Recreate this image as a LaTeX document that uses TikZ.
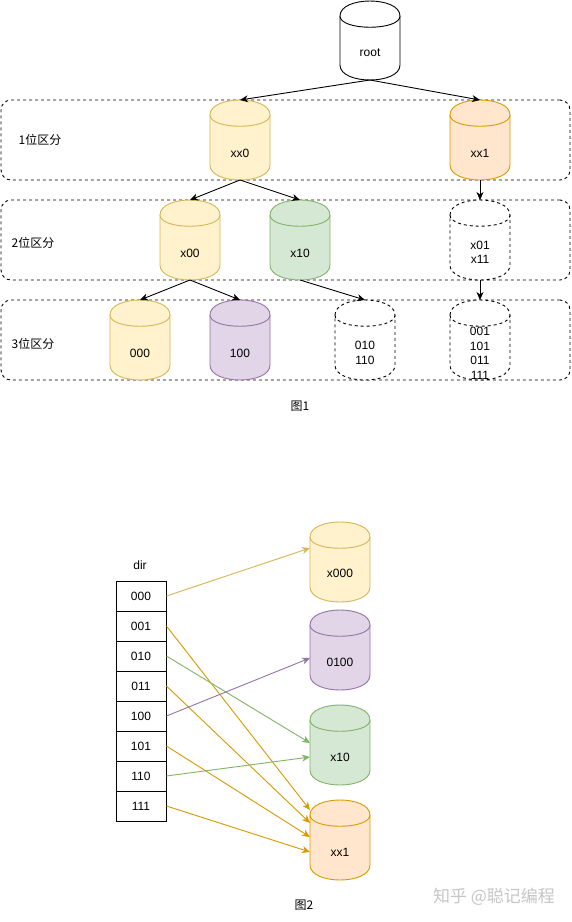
\documentclass[tikz,border=0pt]{standalone}
\usepackage{fontspec}
\setmainfont{Liberation Sans}
\newfontfamily\cjk{Noto Sans CJK SC}
\usetikzlibrary{arrows.meta,calc}
\definecolor{yf}{HTML}{FFF2CC}\definecolor{ys}{HTML}{D6B656}
\definecolor{of}{HTML}{FFE6CC}\definecolor{os}{HTML}{D79B00}
\definecolor{gf}{HTML}{D5E8D4}\definecolor{gs}{HTML}{82B366}
\definecolor{pf}{HTML}{E1D5E7}\definecolor{ps}{HTML}{9673A6}
\newcommand{\cylshape}[2]{%
  \path[#2] ($(#1.north west)+(0,15)$) .. controls ($(#1.north west)+(0,-5)$) and ($(#1.north east)+(0,-5)$) .. ($(#1.north east)+(0,15)$)
    -- ($(#1.south east)+(0,-15)$) .. controls ($(#1.south east)+(0,5)$) and ($(#1.south west)+(0,5)$) .. ($(#1.south west)+(0,-15)$) -- cycle;
  \path[#2] ($(#1.north west)+(0,15)$) .. controls ($(#1.north west)+(0,30)$) and ($(#1.north east)+(0,30)$) .. ($(#1.north east)+(0,15)$);
}
\tikzset{
  cylbox/.style={rectangle,minimum width=60pt,minimum height=80pt,inner sep=0pt,outer sep=0pt},
  lbl/.style={inner sep=0pt,align=center,font=\fontsize{12}{14.5}\selectfont},
  plain/.style={draw=black,fill=white,line width=0.9pt},
  ghost/.style={draw=black,fill=white,line width=0.9pt,dash pattern=on 3pt off 3pt},
  yel/.style={draw=ys,fill=yf,line width=0.9pt},
  ora/.style={draw=os,fill=of,line width=0.9pt},
  gre/.style={draw=gs,fill=gf,line width=0.9pt},
  pur/.style={draw=ps,fill=pf,line width=0.9pt},
  region/.style={draw=black,line width=0.9pt,dash pattern=on 3pt off 3pt,rounded corners=10pt,minimum width=569pt,minimum height=80pt,inner sep=0pt},
  arr/.style={line width=0.9pt,-{Stealth[length=8pt,width=7pt,inset=2.5pt]}},
  cell/.style={draw=black,line width=0.9pt,minimum width=50pt,minimum height=30pt,inner sep=0pt,font=\fontsize{12}{14}\selectfont},
  regl/.style={inner sep=0pt,font=\cjk\fontsize{12}{14}\selectfont},
}
\begin{document}
\begin{tikzpicture}[x=1pt,y=-1pt]
\useasboundingbox[fill=white] (0,0) rectangle (572,922);
% regions
\node[region] (r1) at (285.5,140) {};
\node[region] (r2) at (285.5,240) {};
\node[region] (r3) at (285.5,340) {};
\node[regl] (r1l) at (40,140) {1位区分};
\node[regl] (r2l) at (33,243) {2位区分};
\node[regl] (r3l) at (33,344) {3位区分};
% figure 1 cylinders
\node[cylbox,minimum height=79pt] (root) at (370,40.5) {};
\node[cylbox] (xx0) at (240,140) {};
\node[cylbox] (xx1) at (480,140) {};
\node[cylbox] (x00) at (190,240) {};
\node[cylbox] (x10) at (300,240) {};
\node[cylbox] (x01) at (480,240) {};
\node[cylbox] (c000) at (140,340) {};
\node[cylbox] (c100) at (240,340) {};
\node[cylbox] (c010) at (365,340) {};
\node[cylbox] (c001) at (480,340) {};
\cylshape{root}{plain}
\cylshape{xx0}{yel}
\cylshape{xx1}{ora}
\cylshape{x00}{yel}
\cylshape{x10}{gre}
\cylshape{x01}{ghost}
\cylshape{c000}{yel}
\cylshape{c100}{pur}
\cylshape{c010}{ghost}
\cylshape{c001}{ghost}
\node[lbl] (rootl) at (370,53) {root};
\node[lbl] (xx0l) at (240,153) {xx0};
\node[lbl] (xx1l) at (480,153) {xx1};
\node[lbl] (x00l) at (190,253) {x00};
\node[lbl] (x10l) at (300,253) {x10};
\node[lbl] (x01l) at (480,252.5) {x01\\x11};
\node[lbl] (c000l) at (140,353) {000};
\node[lbl] (c100l) at (240,353) {100};
\node[lbl] (c010l) at (365,353) {010\\110};
\node[lbl] (c001l) at (480,353.5) {001\\101\\011\\111};
% figure 1 arrows
\draw[arr] (root.south) -- (xx0.north);
\draw[arr] (root.south) -- (xx1.north);
\draw[arr] (xx0.south) -- (x00.north);
\draw[arr] (xx0.south) -- (x10.north);
\draw[arr] (xx1.south) -- (x01.north);
\draw[arr] (x00.south) -- (c000.north);
\draw[arr] (x00.south) -- (c100.north);
\draw[arr] (x10.south) -- (c010.north);
\draw[arr] (x01.south) -- (c001.north);
\node[inner sep=0pt,font=\cjk\fontsize{12}{14}\selectfont] (fig1) at (300,406) {图1};
% figure 2
\node[lbl] (dir) at (140,565) {dir};
\node[cell] (d000) at (141,596) {000};
\node[cell] (d001) at (141,626) {001};
\node[cell] (d010) at (141,656) {010};
\node[cell] (d011) at (141,686) {011};
\node[cell] (d100) at (141,716) {100};
\node[cell] (d101) at (141,746) {101};
\node[cell] (d110) at (141,776) {110};
\node[cell] (d111) at (141,806) {111};
\node[cylbox] (x000) at (340,562) {};
\node[cylbox] (p0100) at (340,650) {};
\node[cylbox] (g10) at (340,745) {};
\node[cylbox] (o1) at (340,840) {};
\cylshape{x000}{yel}
\cylshape{p0100}{pur}
\cylshape{g10}{gre}
\cylshape{o1}{ora}
\node[lbl] (x000l) at (340,573) {x000};
\node[lbl] (p0100l) at (340,662) {0100};
\node[lbl] (g10l) at (340,757) {x10};
\node[lbl] (o1l) at (340,852) {xx1};
\draw[arr,ys] (d000.east) -- ($(x000.north west)+(0,26)$);
\draw[arr,os] (d001.east) -- ($(o1.north west)+(0,10)$);
\draw[arr,gs] (d010.east) -- ($(g10.north west)+(0,38)$);
\draw[arr,os] (d011.east) -- ($(o1.north west)+(0,23)$);
\draw[arr,ps] (d100.east) -- ($(p0100.north west)+(0,48)$);
\draw[arr,os] (d101.east) -- ($(o1.north west)+(0,37)$);
\draw[arr,gs] (d110.east) -- ($(g10.north west)+(0,52)$);
\draw[arr,os] (d111.east) -- ($(o1.north west)+(0,52)$);
\node[inner sep=0pt,font=\cjk\fontsize{12}{14}\selectfont] (fig2) at (304,905) {图2};
\node[inner sep=0pt,text=gray!45,font=\cjk\fontsize{17}{17}\selectfont] (wm) at (494,897) {知乎 @聪记编程};
\end{tikzpicture}
\end{document}
